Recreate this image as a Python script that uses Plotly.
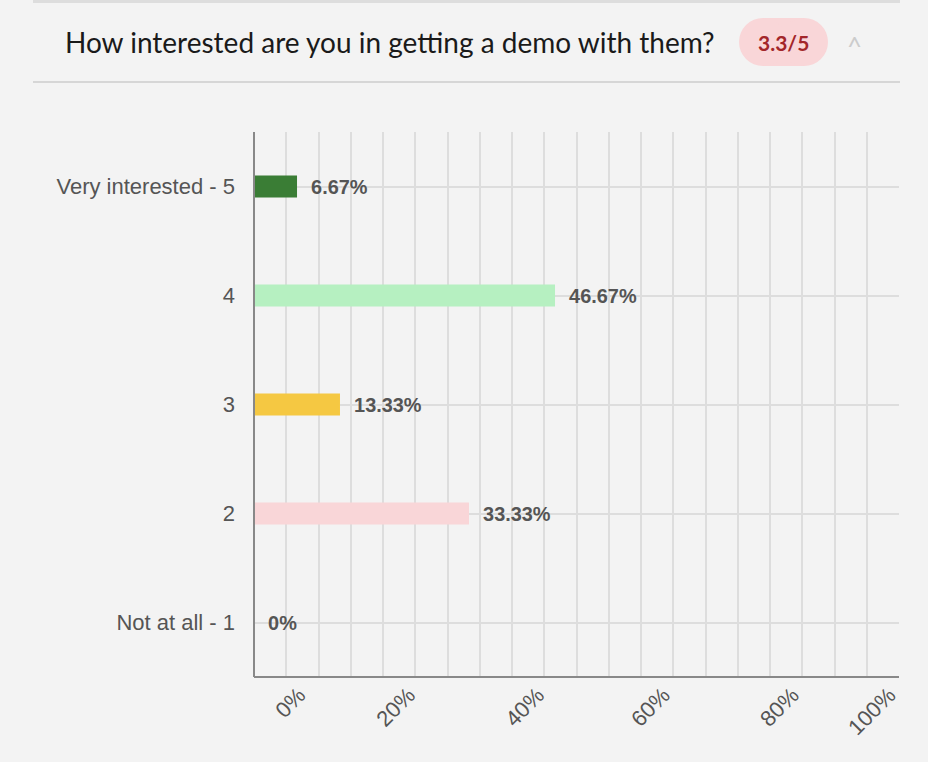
import plotly.graph_objects as go

# answer categories, bottom to top
categories = ["Not at all - 1", "2", "3", "4", "Very interested - 5"]
percents = [0, 33.33, 13.33, 46.67, 6.67]
labels = ["0%", "33.33%", "13.33%", "46.67%", "6.67%"]
colors = ["#f9d6d8", "#f9d6d8", "#f5c842", "#b6f0c1", "#3a7d35"]
tick_pos = [7, 24, 44, 63.5, 83.5, 98.5]
tick_text = ["0%", "20%", "40%", "60%", "80%", "100%"]

fig = go.Figure(go.Bar(
    x=percents, y=categories, orientation="h",
    marker=dict(color=colors, line_width=0),
    text=labels, textposition="outside", cliponaxis=False,
    textfont=dict(family="Liberation Sans", size=21, color="#555555"),
    texttemplate="  <b>%{text}</b>",
))

fig.update_layout(
    width=928, height=762,
    margin=dict(l=254, r=29, t=132, b=85),
    paper_bgcolor="#f3f3f3", plot_bgcolor="#f3f3f3",
    bargap=0.8, showlegend=False,
    font=dict(family="Liberation Sans", color="#555555"),
)
fig.update_xaxes(
    range=[0, 100], tickvals=tick_pos, ticktext=tick_text, tickangle=-45,
    showgrid=False, zeroline=False, showline=False,
    tickfont=dict(size=22, color="#555555"),
    minor=dict(dtick=5, showgrid=True, gridcolor="#dddddd", gridwidth=1.5),
)
fig.update_yaxes(
    showgrid=True, gridcolor="#dddddd", gridwidth=1.5,
    showline=False, ticks="", ticklabelstandoff=18,
    tickfont=dict(size=22, color="#555555"),
)

# axis lines
fig.add_shape(type="line", xref="paper", yref="paper", x0=0, x1=0, y0=0, y1=1,
              line=dict(color="#888888", width=2))
fig.add_shape(type="line", xref="paper", yref="paper", x0=0, x1=1, y0=0, y1=0,
              line=dict(color="#888888", width=2))

# header rules
px_x = lambda v: (v - 254) / (899 - 254)
px_y = lambda v: (762 - 85 - v) / (762 - 132 - 85)
fig.add_shape(type="rect", xref="paper", yref="paper", x0=px_x(33), x1=px_x(900),
              y0=px_y(3), y1=px_y(0), fillcolor="#dddddd", line_width=0)
fig.add_shape(type="line", xref="paper", yref="paper", x0=px_x(33), x1=px_x(900),
              y0=px_y(82), y1=px_y(82), line=dict(color="#cccccc", width=1.5))
# badge pill
for x0, x1, kind in [(763, 804, "rect"), (739, 787, "circle"), (780, 828, "circle")]:
    fig.add_shape(type=kind, xref="paper", yref="paper", x0=px_x(x0), x1=px_x(x1),
                  y0=px_y(66), y1=px_y(18), fillcolor="#f9d6d8", line_width=0)

fig.add_annotation(xref="paper", yref="paper", x=px_x(63), y=px_y(42),
                   xanchor="left", yanchor="middle",
                   text="How interested are you in getting a demo with them?",
                   showarrow=False, font=dict(family="Lato", size=28, color="#1a1a1a"))
fig.add_annotation(xref="paper", yref="paper", x=px_x(783), y=px_y(42),
                   xanchor="center", yanchor="middle", text="<b>3.3/5</b>",
                   showarrow=False, font=dict(family="Lato", size=21, color="#a3262a"))
fig.add_annotation(xref="paper", yref="paper", x=px_x(854), y=px_y(46),
                   xanchor="center", yanchor="middle", text="^", showarrow=False,
                   font=dict(family="Lato", size=26, color="#cccccc"))

fig.write_html("out.html", config={"displayModeBar": False},
               post_script="document.body.style.margin='0';")
